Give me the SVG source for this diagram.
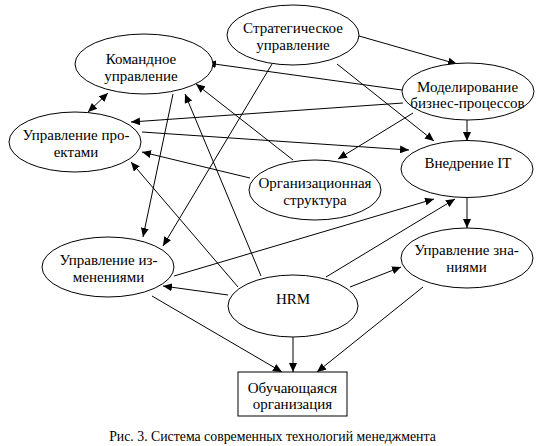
<svg xmlns="http://www.w3.org/2000/svg" width="540" height="446" viewBox="0 0 540 446">
<style>
.n{fill:#fff;stroke:#000;stroke-width:1}
.t{font-family:"Liberation Serif","Times New Roman",serif;font-size:15px;fill:#000;text-anchor:middle}
.c{font-family:"Liberation Serif","Times New Roman",serif;font-size:13.8px;fill:#000;text-anchor:middle}
.e line{stroke:#000;stroke-width:1;marker-end:url(#a)}
</style>
<defs>
<marker id="a" markerWidth="10" markerHeight="8" refX="9" refY="4" orient="auto" markerUnits="userSpaceOnUse"><path d="M0,0 L9,4 L0,8 z" fill="#000"/></marker>
<marker id="b" markerWidth="10" markerHeight="8" refX="0" refY="4" orient="auto" markerUnits="userSpaceOnUse"><path d="M9,0 L0,4 L9,8 z" fill="#000"/></marker>
</defs>
<rect width="540" height="446" fill="#fff"/>
<g class="e" id="connectors">
<line x1="359" y1="36" x2="457" y2="64"/>
<line x1="337" y1="64" x2="434" y2="141"/>
<line x1="272" y1="64" x2="163" y2="246"/>
<line x1="402" y1="90" x2="207" y2="63"/>
<line x1="403" y1="103" x2="131" y2="122"/>
<line x1="413" y1="113" x2="338" y2="159"/>
<line x1="467" y1="120" x2="467" y2="141"/>
<line x1="142" y1="132" x2="409" y2="150"/>
<line x1="250" y1="178" x2="142" y2="152"/>
<line x1="293" y1="160" x2="196" y2="84"/>
<line x1="261" y1="276" x2="185" y2="94"/>
<line x1="238" y1="287" x2="131" y2="162"/>
<line x1="173" y1="94" x2="143" y2="237"/>
<line x1="174" y1="276" x2="434" y2="199"/>
<line x1="326" y1="277" x2="455" y2="199"/>
<line x1="350" y1="287" x2="401" y2="267"/>
<line x1="228" y1="295" x2="163" y2="286"/>
<line x1="467" y1="198" x2="467" y2="228"/>
<line x1="293" y1="337" x2="293" y2="372"/>
<line x1="423" y1="287" x2="317" y2="372"/>
<line x1="152" y1="296" x2="282" y2="372"/>
<line x1="88" y1="112" x2="108" y2="93" marker-start="url(#b)"/>
</g>
<g id="strat"><ellipse class="n" cx="293" cy="35" rx="66" ry="30"/><text class="t" x="293" y="33">Стратегическое</text><text class="t" x="293" y="50">управление</text></g>
<g id="komand"><ellipse class="n" cx="144" cy="64" rx="69" ry="30"/><text class="t" x="141" y="64">Командное</text><text class="t" x="141" y="81">управление</text></g>
<g id="proekt"><ellipse class="n" cx="75" cy="142" rx="66" ry="30"/><text class="t" x="76" y="140">Управление про-</text><text class="t" x="76" y="157">ектами</text></g>
<g id="model"><ellipse class="n" cx="468" cy="91.5" rx="66" ry="28.5"/><text class="t" x="467.5" y="92">Моделирование</text><text class="t" x="467.5" y="108">бизнес-процессов</text></g>
<g id="it"><ellipse class="n" cx="467" cy="169" rx="66" ry="28.5"/><text class="t" x="468" y="168">Внедрение IT</text></g>
<g id="org"><ellipse class="n" cx="315" cy="190" rx="66" ry="30"/><text class="t" x="315" y="188">Организационная</text><text class="t" x="315" y="205">структура</text></g>
<g id="izmen"><ellipse class="n" cx="108" cy="267" rx="66" ry="30"/><text class="t" x="108.5" y="265">Управление из-</text><text class="t" x="108.5" y="282">менениями</text></g>
<g id="hrm"><ellipse class="n" cx="293" cy="306" rx="65" ry="31"/><text class="t" x="293" y="304">HRM</text></g>
<g id="znan"><ellipse class="n" cx="467" cy="258" rx="66" ry="30"/><text class="t" x="466.5" y="255">Управление зна-</text><text class="t" x="466.5" y="272">ниями</text></g>
<g id="obuch"><rect class="n" x="238" y="372" width="109" height="44"/><text class="t" x="292.5" y="393">Обучающаяся</text><text class="t" x="292.5" y="409">организация</text></g>
<text class="c" x="272.5" y="441">Рис. 3. Система современных технологий менеджмента</text>
</svg>
